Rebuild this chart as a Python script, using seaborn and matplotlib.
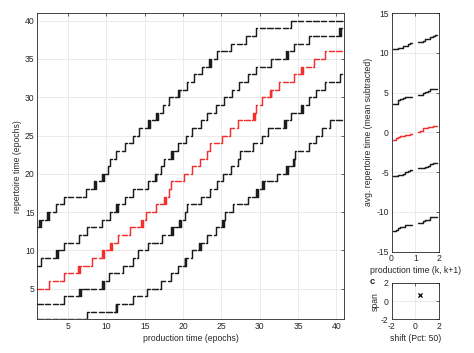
import numpy as np
import pandas as pd
import seaborn as sns
import matplotlib.pyplot as plt

# ---- main panel: repertoire time vs production time ----
# each curve = starting level + production times where it steps up by one epoch
curve_names = ["c1", "c2", "c3", "c4", "c5"]
start_levels = [13, 8, 5, 3, 1]
curve_colors = ["#1c1c1c", "#1c1c1c", "#f23030", "#1c1c1c", "#1c1c1c"]

steps_c1 = [1.2, 2.3, 3.4, 4.7, 7.3, 8.4, 9.5, 10.2, 10.8, 11.3, 12.4, 13.5, 14.3, 15.4,
            16.5, 17.4, 18.2, 19.3, 20.6, 21.5, 22.6, 23.4, 24.8, 26.2, 28.2, 29.9, 34.0]
steps_c2 = [1.5, 3.7, 4.6, 6.4, 7.6, 9.6, 10.5, 11.3, 12.4, 13.5, 15.4, 16.3, 17.0, 17.6,
            18.5, 19.3, 20.4, 21.2, 22.3, 23.1, 24.3, 25.4, 26.4, 27.3, 28.6, 29.9, 31.6,
            33.4, 34.5, 36.9, 40.4]
steps_c3 = [2.9, 4.8, 6.3, 8.0, 9.4, 10.5, 11.5, 13.0, 14.5, 15.0, 16.8, 17.6, 18.2, 18.8,
            20.0, 21.0, 22.2, 23.1, 23.8, 25.0, 26.0, 27.0, 29.0, 29.6, 30.3, 31.3, 32.8,
            34.5, 35.4, 37.0, 38.5]
steps_c4 = [4.7, 6.5, 9.4, 10.3, 12.0, 13.5, 14.1, 15.4, 17.3, 18.5, 19.5, 20.3, 20.8,
            22.4, 23.9, 24.5, 25.2, 26.2, 27.0, 27.8, 29.0, 30.3, 31.0, 33.2, 34.0, 35.4,
            36.5, 37.3, 38.5, 40.5]
steps_c5 = [7.6, 11.2, 13.5, 15.3, 17.0, 18.4, 19.4, 20.2, 21.2, 22.1, 23.0, 24.3, 25.1,
            25.8, 26.7, 28.5, 29.5, 30.3, 32.2, 33.5, 34.3, 34.7, 36.5, 37.4, 38.1, 39.0]

# steps drawn as jittery thick bars
bars_c1 = [1.2, 2.3, 8.4, 9.5, 15.4, 16.5, 19.3, 23.4]
bars_c2 = [3.7, 11.3, 16.3, 18.5, 33.4, 40.4]
bars_c3 = [6.3, 9.4, 10.5, 14.5, 17.6, 29.0, 31.3, 35.4]
bars_c4 = [6.5, 9.4, 18.5, 19.5, 33.2, 35.4]
bars_c5 = [11.2, 20.2, 22.1, 25.1, 29.5, 30.3, 33.5, 34.3]

all_steps = [steps_c1, steps_c2, steps_c3, steps_c4, steps_c5]
all_bars = [bars_c1, bars_c2, bars_c3, bars_c4, bars_c5]
n_epochs = 40

# ---- right panel: avg repertoire time (mean subtracted), epochs k and k+1 ----
avg_k = [[10.45, 10.45, 10.6, 10.6, 10.9, 10.9, 11.05, 11.2],
         [3.6, 3.6, 4.1, 4.2, 4.3, 4.4, 4.45, 4.5],
         [-0.95, -0.7, -0.6, -0.5, -0.45, -0.35, -0.3, -0.25],
         [-5.45, -5.45, -5.4, -5.3, -5.2, -5.0, -4.8, -4.75],
         [-12.35, -12.3, -12.0, -11.9, -11.9, -11.6, -11.7, -11.7]]
avg_k1 = [[11.4, 11.4, 11.55, 11.8, 11.8, 12.0, 12.1, 12.2],
          [4.7, 4.7, 5.0, 5.1, 5.2, 5.5, 5.5, 5.45],
          [0.1, 0.2, 0.55, 0.6, 0.65, 0.7, 0.8, 0.85],
          [-4.5, -4.5, -4.45, -4.4, -4.2, -4.0, -3.85, -3.8],
          [-11.4, -11.4, -11.1, -11.0, -11.0, -10.7, -10.6, -10.6]]

# ---- bottom panel ----
shift = [0.35]
span = [0.65]


def epoch_segments(start, steps, bars, curve, seg_id):
    rows = []
    steps = np.array(steps)
    for k in range(1, n_epochs + 1):
        level = start + int(np.sum(steps < k))
        pts = [(k, level)]
        inside = [s for s in steps if k <= s < k + 1]
        last = k
        for s in inside:
            xs = min(max(s, k + 0.12), k + 0.5)
            xs = max(xs, last + 0.08)
            if s in bars:
                w = 0.12
                pts += [(xs, level), (xs, level + 1), (xs + w, level + 1), (xs + w, level),
                        (xs + 2 * w, level), (xs + 2 * w, level + 1)]
                last = xs + 2 * w
            else:
                pts += [(xs, level), (xs, level + 1)]
                last = xs
            level += 1
        pts.append((max(k + 0.7, last + 0.05), level))
        for x, y in pts:
            rows.append({"x": x, "y": y, "curve": curve, "seg": seg_id})
        seg_id += 1
    return rows, seg_id


rows = []
seg = 0
for name, st, stp, br in zip(curve_names, start_levels, all_steps, all_bars):
    r, seg = epoch_segments(st, stp, br, name, seg)
    rows += r
df = pd.DataFrame(rows)

avg_rows = []
seg = 0
edges_k = np.linspace(0.07, 0.87, 9)
edges_k1 = np.linspace(1.1, 1.92, 9)
for name, vk, vk1 in zip(curve_names, avg_k, avg_k1):
    for edges, vals in [(edges_k, vk), (edges_k1, vk1)]:
        for i, v in enumerate(vals):
            avg_rows.append({"x": edges[i], "y": v, "curve": name, "seg": seg})
            avg_rows.append({"x": edges[i + 1], "y": v, "curve": name, "seg": seg})
        seg += 1
df_avg = pd.DataFrame(avg_rows)

sns.set_style("white")
plt.rcParams["font.family"] = ["Liberation Sans", "DejaVu Sans"]
plt.rcParams["axes.unicode_minus"] = False

palette = dict(zip(curve_names, curve_colors))
fs = 6.2
ink = "#262626"

fig = plt.figure(figsize=(4.74, 3.53), dpi=100)
ax = fig.add_axes([0.0787, 0.0955, 0.647, 0.8675])
ax2 = fig.add_axes([0.826, 0.287, 0.101, 0.676])
ax3 = fig.add_axes([0.826, 0.0955, 0.101, 0.103])

sns.lineplot(data=df, x="x", y="y", hue="curve", units="seg", estimator=None, sort=False,
             palette=palette, linewidth=1.05, legend=False, ax=ax)
sns.lineplot(data=df_avg, x="x", y="y", hue="curve", units="seg", estimator=None, sort=False,
             palette=palette, linewidth=1.05, legend=False, ax=ax2)
sns.scatterplot(x=shift, y=span, marker="x", color="black", s=9, linewidth=0.9, ax=ax3)

ax.set_xlim(1, 41)
ax.set_ylim(1, 41)
ax.set_xticks(range(5, 41, 5))
ax.set_yticks(range(5, 41, 5))
ax.set_xlabel("production time (epochs)", fontsize=fs, color=ink, labelpad=2)
ax.set_ylabel("repertoire time (epochs)", fontsize=fs, color=ink, labelpad=2)

ax2.set_xlim(0, 2)
ax2.set_ylim(-15, 15)
ax2.set_xticks([0, 1, 2])
ax2.set_yticks(range(-15, 16, 5))
ax2.set_xlabel("production time (k, k+1)", fontsize=fs, color=ink, labelpad=2)
ax2.set_ylabel("avg. repertoire time (mean subtracted)", fontsize=fs, color=ink, labelpad=2)

ax3.set_xlim(-2, 2)
ax3.set_ylim(-2, 2)
ax3.set_xticks([-2, 0, 2])
ax3.set_yticks([-2, 0, 2])
ax3.set_xlabel("shift (Pct: 50)", fontsize=fs, color=ink, labelpad=2)
ax3.set_ylabel("span", fontsize=fs, color=ink, labelpad=1)

for a in [ax, ax2, ax3]:
    a.grid(True, color="#e3e3e3", linewidth=0.5)
    a.set_axisbelow(True)
    a.tick_params(direction="in", top=True, right=True, length=2.5, width=0.5,
                  labelsize=fs, colors=ink, pad=2)
    for sp in a.spines.values():
        sp.set_color(ink)
        sp.set_linewidth(0.6)

fig.text(372 / 474, 1 - 282 / 353, "c", fontsize=6.8, fontweight="bold", ha="center", va="center")

fig.savefig("out.png", dpi=100)
